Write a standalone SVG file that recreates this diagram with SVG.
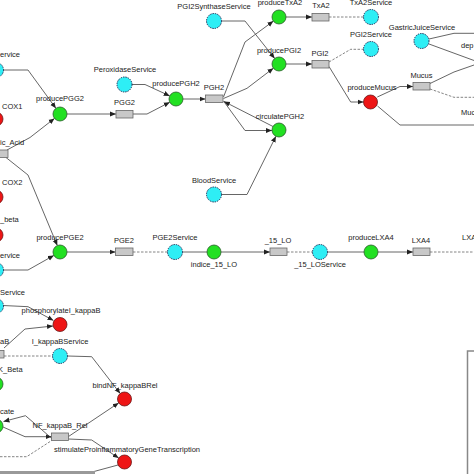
<svg xmlns="http://www.w3.org/2000/svg" width="474" height="474" viewBox="0 0 474 474">
<style>
text{font-family:"Liberation Sans",Arial,sans-serif;font-size:7.5px;fill:#222}
.m{text-anchor:middle}
.t{fill:#22e022;stroke:#2a5a2a;stroke-width:0.8}
.r{fill:#ee1515;stroke:#6a1515;stroke-width:0.8}
.s{fill:#2eeef5;stroke:#1a2a55;stroke-width:1;stroke-dasharray:1.4,1}
.b{fill:#c8c8c8;stroke:#666;stroke-width:0.8}
.c path{fill:none;stroke:#555;stroke-width:0.9}
.c .a{marker-end:url(#ar)}
.c .d{stroke-dasharray:2.5,1.5;stroke:#777}
</style>
<defs>
<marker id="ar" markerUnits="userSpaceOnUse" markerWidth="6" markerHeight="6" refX="6" refY="3" orient="auto">
<path d="M0,0.5 L6,3 L0,5.5 z" fill="#222"/>
</marker>
</defs>
<rect width="474" height="474" fill="#fff"/>
<g class="c" id="connectors">
<path class="a" d="M3,70 H28 L55.9,108.3"/>
<path class="a" d="M7,150 L30,137.5 L54.5,118.4"/>
<path class="a" d="M67,114 H116"/>
<path class="a" d="M133,114 H147 L169.8,102.2"/>
<path class="a" d="M132,84.5 H145 L169.7,95.9"/>
<path class="a" d="M183,99 H205.5"/>
<path class="a" d="M223.5,97 L245,42 L273.4,21.1"/>
<path class="a" d="M223.5,98.5 L247,88.3 L273.4,68.2"/>
<path class="a" d="M221.5,21 H245 L274.7,58.5"/>
<path class="a" d="M223.5,101 L245,130.5 H272"/>
<path class="a" d="M273,126.5 L224,101.5"/>
<path class="a" d="M221.5,194.5 H247 L275.9,136.3"/>
<path class="a" d="M286,17 H312"/>
<path class="d" d="M329,17 H363.5"/>
<path class="a" d="M286,64 H312"/>
<path class="d" d="M329,62 L350.7,49.3 H363.5"/>
<path class="a" d="M329,66.5 L350.7,102 H363.5"/>
<path class="a" d="M377.3,97 L400,86.5 H413"/>
<path d="M377.5,106 L400,125 H474"/>
<path d="M429,39 L454,33.3 H474"/>
<path d="M429,44 L474,60.5"/>
<path d="M430,83.5 L454,72 L474,65"/>
<path class="d" d="M430,89 L454,97.3 H474"/>
<path class="a" d="M6,157.5 L28,175 L57.3,245.5"/>
<path class="a" d="M3,270 H28 L53.9,255.4"/>
<path class="a" d="M67,252 H115.5"/>
<path class="d" d="M133,252 H167.5"/>
<path d="M182.5,252 H207"/>
<path class="a" d="M221,252 H270"/>
<path class="d" d="M287,252 H312.5"/>
<path d="M327.5,252 H364"/>
<path class="a" d="M378,252 H413"/>
<path class="d" d="M430,252 H474"/>
<path class="a" d="M3,305.5 L28,306.7 L53.5,320.5"/>
<path class="a" d="M4,348 L25,329 L53,326"/>
<path class="d" d="M4,356 H52.5"/>
<path class="a" d="M67.5,356 L91.7,356.7 L120.2,393.5"/>
<path class="a" d="M68.5,436.5 L118.7,402.9"/>
<path class="a" d="M52.5,439 L25.5,415.7 L3.5,421.5"/>
<path class="a" d="M3,427 L25,436.7 H51.5"/>
<path class="d" d="M0,456.7 H26.7 L51.7,440.5"/>
<path class="a" d="M68.5,439 L91.7,440 L118.7,458.1"/>
<path d="M118,465 L94,471.5"/>
<path d="M0,472.5 H95" style="stroke:#999;stroke-width:3"/>
<path d="M474,351 H467.5 V474" style="stroke:#888;stroke-width:1.5"/>
</g>
<g id="producePGG2"><circle class="t" cx="60" cy="114" r="7"/><text class="m" x="60" y="100.5">producePGG2</text></g>
<g id="producePGH2"><circle class="t" cx="176" cy="99" r="7"/><text class="m" x="176" y="86">producePGH2</text></g>
<g id="produceTxA2"><circle class="t" cx="279" cy="17" r="7"/><text class="m" x="280" y="5">produceTxA2</text></g>
<g id="producePGI2"><circle class="t" cx="279" cy="64" r="7"/><text class="m" x="279" y="53">producePGI2</text></g>
<g id="circulatePGH2"><circle class="t" cx="279" cy="130" r="7"/><text class="m" x="280" y="119">circulatePGH2</text></g>
<g id="producePGE2"><circle class="t" cx="60" cy="252" r="7"/><text class="m" x="60" y="240">producePGE2</text></g>
<g id="indice_15_LO"><circle class="t" cx="214" cy="252" r="7"/><text class="m" x="214" y="267">indice_15_LO</text></g>
<g id="produceLXA4"><circle class="t" cx="371" cy="252" r="7"/><text class="m" x="371" y="240">produceLXA4</text></g>
<g id="K_Beta"><circle class="t" cx="-4" cy="384" r="7"/><text x="-2" y="372">K_Beta</text></g>
<g id="cate"><circle class="t" cx="-4" cy="426" r="7"/><text x="0" y="414">cate</text></g>
<g id="produceMucus"><circle class="r" cx="370.5" cy="102" r="7"/><text class="m" x="372" y="90">produceMucus</text></g>
<g id="COX1"><circle class="r" cx="-4" cy="119" r="7"/><text x="2" y="109">COX1</text></g>
<g id="COX2"><circle class="r" cx="-4" cy="197" r="7"/><text x="2" y="185">COX2</text></g>
<g id="beta"><circle class="r" cx="-4" cy="235" r="7"/><text x="0" y="222">_beta</text></g>
<g id="phosphorylateI_kappaB"><circle class="r" cx="60" cy="324.5" r="7"/><text class="m" x="61" y="313">phosphorylateI_kappaB</text></g>
<g id="bindNF_kappaBRel"><circle class="r" cx="124.5" cy="399" r="7"/><text class="m" x="125" y="388">bindNF_kappaBRel</text></g>
<g id="stimulateProinflammatoryGeneTranscription"><circle class="r" cx="124.5" cy="462" r="7"/><text class="m" x="127" y="452">stimulateProinflammatoryGeneTranscription</text></g>
<g id="PGI2SynthaseService"><circle class="s" cx="214" cy="21" r="7.5"/><text class="m" x="214" y="9">PGI2SynthaseService</text></g>
<g id="TxA2Service"><circle class="s" cx="371" cy="17" r="7.5"/><text class="m" x="371" y="5">TxA2Service</text></g>
<g id="PGI2Service"><circle class="s" cx="371" cy="49" r="7.5"/><text class="m" x="371" y="37">PGI2Service</text></g>
<g id="GastricJuiceService"><circle class="s" cx="421.5" cy="41" r="7.5"/><text class="m" x="422" y="30">GastricJuiceService</text></g>
<g id="PeroxidaseService"><circle class="s" cx="124.5" cy="84.5" r="7.5"/><text class="m" x="125" y="72">PeroxidaseService</text></g>
<g id="BloodService"><circle class="s" cx="214" cy="194.5" r="7.5"/><text class="m" x="214" y="183">BloodService</text></g>
<g id="PGE2Service"><circle class="s" cx="175" cy="252" r="7.5"/><text class="m" x="175" y="240">PGE2Service</text></g>
<g id="_15_LOService"><circle class="s" cx="320" cy="252" r="7.5"/><text class="m" x="320" y="267">_15_LOService</text></g>
<g id="I_kappaBService"><circle class="s" cx="60" cy="356" r="7.5"/><text class="m" x="60" y="344">I_kappaBService</text></g>
<g id="service1"><circle class="s" cx="-4" cy="70" r="7.5"/><text x="0" y="57">ervice</text></g>
<g id="service2"><circle class="s" cx="-4" cy="270" r="7.5"/><text x="0" y="258">ervice</text></g>
<g id="service3"><circle class="s" cx="-4" cy="306" r="7.5"/><text x="0" y="295">Service</text></g>
<g id="PGG2"><rect class="b" x="116" y="110.5" width="17" height="7.5"/><text class="m" x="124.5" y="105">PGG2</text></g>
<g id="PGH2"><rect class="b" x="205.5" y="95" width="17.5" height="7.5"/><text class="m" x="214" y="90">PGH2</text></g>
<g id="TxA2"><rect class="b" x="312" y="13.5" width="17" height="7.5"/><text class="m" x="321" y="8">TxA2</text></g>
<g id="PGI2"><rect class="b" x="312" y="60.5" width="17" height="7.5"/><text class="m" x="320" y="56">PGI2</text></g>
<g id="Mucus"><rect class="b" x="413" y="82.5" width="17" height="7.5"/><text class="m" x="421.5" y="78">Mucus</text></g>
<g id="PGE2"><rect class="b" x="115.5" y="248" width="17.5" height="7.5"/><text class="m" x="124" y="243">PGE2</text></g>
<g id="_15_LO"><rect class="b" x="270" y="248" width="17" height="7.5"/><text class="m" x="278" y="243">_15_LO</text></g>
<g id="LXA4"><rect class="b" x="413" y="248" width="17" height="7.5"/><text class="m" x="421" y="243">LXA4</text></g>
<g id="NF_kappaB_Rel"><rect class="b" x="51.5" y="433" width="17" height="7.5"/><text class="m" x="60" y="428">NF_kappaB_Rel</text></g>
<g id="Arachidonic_Acid"><rect class="b" x="-9" y="150" width="17" height="7.5"/><text x="0" y="145">ic_Acid</text></g>
<g id="I_kappaB"><rect class="b" x="-13" y="350.5" width="17" height="7.5"/><text x="0" y="344">aB</text></g>
<g id="cutLabels"><text x="461" y="48">dep</text><text x="461" y="115">Muc</text><text x="462" y="240">LXA</text></g>
</svg>
